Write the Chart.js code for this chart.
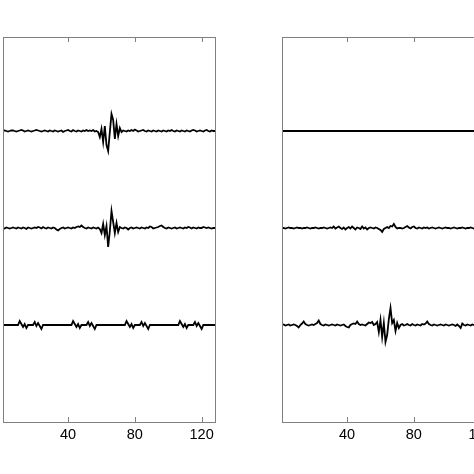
<!DOCTYPE html>
<html>
<head>
<meta charset="utf-8">
<script src="https://cdn.jsdelivr.net/npm/chart.js@4"></script>
<style>
  html, body { margin: 0; padding: 0; width: 474px; height: 474px; overflow: hidden; background: #fff; }
  canvas { position: absolute; top: 0; }
  #leftChart { left: 0; }
  #rightChart { left: 260px; }
</style>
</head>
<body>
<canvas id="leftChart" width="240" height="474"></canvas>
<canvas id="rightChart" width="260" height="474"></canvas>
<script>
// x tick labels, shared by both panels
const xTicks = [40, 80, 120];

// vertical offsets of the three traces (top, middle, bottom)
const traceOffsets = [291, 194, 97];

// left panel, deviation of each sample (1..128) from its trace baseline
const leftTop = [
  0, 0.5, 0, -0.5, 0, 0.5, 0.5, 0, -0.5, 0, 0.5, 1, 0.5, -0.5, 0, 0.5,
  0, -0.5, 0, 0.5, 1, 0.5, 0, -0.5, 0, 0.5, 0, -0.5, 0.5, 0, -0.5, 0.5,
  0, -0.5, 0, 0.5, -1, 0, 0.5, 1, 0, -0.5, 1, 0, -0.5, 0.5, 0, -0.5,
  0.5, 0, 1, 0, 0.5, 0, 1, -0.5, 0, -1, -6, 2, -11, 5, -14, -20,
  -1, 17, 11, -8, 7, -5, 3, -1, 0.5, 0, -0.5, 0.5, 0, 1, 0, 1.5,
  0.5, -0.5, 0, 0.5, 1, 0, -0.5, 0.5, 0, -0.5, 0.5, 0, -0.5, 0.5, 0, -0.5,
  0.5, 0, -0.5, 0.5, 0, 1, 0, -0.5, 0.5, 0, -0.5, 0.5, 0, -0.5, 0.5, 0,
  -0.5, 0.5, 1, 0.5, -0.5, 0, 0.5, 0, -0.5, 0.5, 1, 0, -0.5, 0.5, 0, 0
];
const leftMiddle = [
  0, -0.5, 0.5, 0, -0.5, 0, 0.5, 0, -0.5, 0.5, 0, -0.5, 0.5, 0, -1, 0.5,
  0, -0.5, 0, 0.5, 0, 1, 0.5, -0.5, 1, 0, -0.5, 0.5, 0, -0.5, 0.5, 0,
  -1.5, -2.5, -1, 0, 0.5, -0.5, 0, 0.5, 0, -0.5, 0.5, 0, 1, 1.5, 1, 2.5,
  1, 0, -0.5, 0.5, 0, -0.5, 0.5, 0, -0.5, 0.5, -1, -5, 4, -7, 2, -19,
  -3, 17, 6, -5, 5, -4, 1, 0, -0.5, 0.5, 0, -1.5, 0, 0.5, -0.5, 0,
  0.5, 0, -0.5, 0.5, 0, -0.5, 0.5, 0, 1.5, 1, -0.5, 0, 0.5, 1, 2, 2.5,
  1, 0, -0.5, 0.5, 0, -0.5, 0, 0.5, -0.5, 0, 0.5, 0, -0.5, 0.5, 0, 1,
  0.5, -0.5, 0.5, 0, -0.5, 0.5, 0, 0, 1, 0.5, 0, 0.5, 0, -0.5, 0, 0
];
const leftBottom = [
  0, 0, 0, 0, 0, 0, 0, 0, 0, 0, 4, 1, -2, 1, -3, 0,
  0, 0, 0, 3, -1, 2, -1, -4, 0, 0, 0, 0, 0, 0, 0, 0,
  0, 0, 0, 0, 0, 0, 0, 0, 0, 0, 4, 1, -2, 1, -3, 0,
  0, 0, 0, 3, -1, 2, -1, -4, 0, 0, 0, 0, 0, 0, 0, 0,
  0, 0, 0, 0, 0, 0, 0, 0, 0, 0, 4, 1, -2, 1, -3, 0,
  0, 0, 0, 3, -1, 2, -1, -4, 0, 0, 0, 0, 0, 0, 0, 0,
  0, 0, 0, 0, 0, 0, 0, 0, 0, 0, 4, 1, -2, 1, -3, 0,
  0, 0, 0, 3, -1, 2, -1, -4, 0, 0, 0, 0, 0, 0, 0, 0
];

// right panel
const rightTop = [
  0, 0, 0, 0, 0, 0, 0, 0, 0, 0, 0, 0, 0, 0, 0, 0,
  0, 0, 0, 0, 0, 0, 0, 0, 0, 0, 0, 0, 0, 0, 0, 0,
  0, 0, 0, 0, 0, 0, 0, 0, 0, 0, 0, 0, 0, 0, 0, 0,
  0, 0, 0, 0, 0, 0, 0, 0, 0, 0, 0, 0, 0, 0, 0, 0,
  0, 0, 0, 0, 0, 0, 0, 0, 0, 0, 0, 0, 0, 0, 0, 0,
  0, 0, 0, 0, 0, 0, 0, 0, 0, 0, 0, 0, 0, 0, 0, 0,
  0, 0, 0, 0, 0, 0, 0, 0, 0, 0, 0, 0, 0, 0, 0, 0,
  0, 0, 0, 0, 0, 0, 0, 0, 0, 0, 0, 0, 0, 0, 0, 0
];
const rightMiddle = [
  0, 0, -0.5, 0, 0.5, 0, 0, -0.5, 0, 0.5, 0, 0, -0.5, 0, 0, 0.5,
  0, -0.5, 0, 0, 0.5, 0, -0.5, 0, 0, 0.5, 0, -0.5, 0, 0.5, 0, 1.5,
  -0.5, 0.5, 1.5, 0, -1, 0.5, -1.5, 0, 1, -0.5, 1.5, 0, -1.5, 0.5, 0, -1,
  1.5, -0.5, 0.5, -1.5, 0, 0.5, 0, -0.5, 0.5, 0, -1, -2, -4, -1, 0, 1,
  0, 2, 1.5, 4, 1, -0.5, 0, 0, -0.5, 0, 1, 2, 0.5, -0.5, 1, 1.5,
  0, -0.5, 0.5, 0, -0.5, 0.5, 0, 0.5, -0.5, 0, 0.5, 0, -0.5, 0, 0.5, 0,
  -0.5, 0, 0.5, 0, 0, -0.5, 0, 0.5, 0, -0.5, 0, 0, 0.5, 0, -0.5, 0,
  0, 0.5, 0, -0.5, 0, 0, 0.5, 0, -0.5, 0, 0, 0.5, 0, -0.5, 0, 0
];
const rightBottom = [
  0, 0.5, -0.5, 0, 0.5, -0.5, 0, 0.5, 0, -1, -2.5, 0, 1.5, 3.5, 1, 0,
  -0.5, 0, 0.5, 0, 1, 2, 4.5, 1, 0, -0.5, 0.5, 0, -0.5, 0, 0.5, 0,
  -0.5, 0.5, 0, -0.5, 0, 0.5, -1, -2, -2.5, 0, 1, 1.5, 1, 3.5, 1, 0,
  0.5, 0, -0.5, 1, 2.5, 2, 3, 0, 1, 3, -7, 5, -12, 2, -17, -10,
  6, 17, 2, 5, -6, 2, -3, 0, 1, -0.5, 0, 1, 0, -0.5, 1, 0,
  -0.5, 0.5, 0, -0.5, 1, 0.5, 1.5, 3.5, 1, 0, -0.5, 0.5, 0, -0.5, 0, 0.5,
  0, -0.5, 0.5, 0, -0.5, 0, 0.5, 0, -1, 0.5, -1, -3, 1.5, 0, -0.5, 0.5,
  0, -0.5, 0.5, 0, 1, -0.5, 0, 0.5, 0, -0.5, 0, 1, -0.5, 0, 0.5, 0
];

const frameColor = '#808080';

// draws the box round the plot and the inward tick marks top and bottom
const framePlugin = {
  id: 'frame',
  afterDraw(chart) {
    const { ctx, chartArea: a, scales } = chart;
    ctx.save();
    ctx.strokeStyle = frameColor;
    ctx.lineWidth = 1;
    ctx.strokeRect(a.left + 0.5, a.top + 0.5, a.right - a.left, a.bottom - a.top);
    ctx.beginPath();
    xTicks.forEach(v => {
      const px = Math.round(scales.x.getPixelForValue(v)) + 0.5;
      ctx.moveTo(px, a.bottom);
      ctx.lineTo(px, a.bottom - 5);
      ctx.moveTo(px, a.top);
      ctx.lineTo(px, a.top + 5);
    });
    ctx.stroke();
    ctx.restore();
  }
};

function toPoints(values, offset) {
  return values.map((v, i) => ({ x: i + 1, y: offset + v }));
}

function makePanel(canvasId, series, padLeft, padRight) {
  const ctx = document.getElementById(canvasId).getContext('2d');
  return new Chart(ctx, {
    type: 'line',
    data: {
      datasets: series.map((s, i) => ({
        data: toPoints(s, traceOffsets[i]),
        borderColor: '#000',
        borderWidth: 1.8,
        pointRadius: 0,
        tension: 0,
        fill: false
      }))
    },
    options: {
      responsive: false,
      animation: false,
      events: [],
      layout: { padding: { left: padLeft, right: padRight, top: 37, bottom: 0 } },
      plugins: { legend: { display: false }, tooltip: { enabled: false } },
      scales: {
        x: {
          type: 'linear',
          min: 1,
          max: 128,
          afterBuildTicks: scale => { scale.ticks = xTicks.map(v => ({ value: v })); },
          afterFit: scale => { scale.height = 52; },
          grid: { display: false, drawTicks: false },
          border: { display: false },
          ticks: {
            color: '#000',
            padding: 4,
            maxRotation: 0,
            font: { family: "'Liberation Sans', Arial, sans-serif", size: 14.5 }
          }
        },
        y: {
          display: false,
          min: 0,
          max: 385
        }
      }
    },
    plugins: [framePlugin]
  });
}

makePanel('leftChart', [leftTop, leftMiddle, leftBottom], 3, 25);
makePanel('rightChart', [rightTop, rightMiddle, rightBottom], 22, 26);
</script>
</body>
</html>
